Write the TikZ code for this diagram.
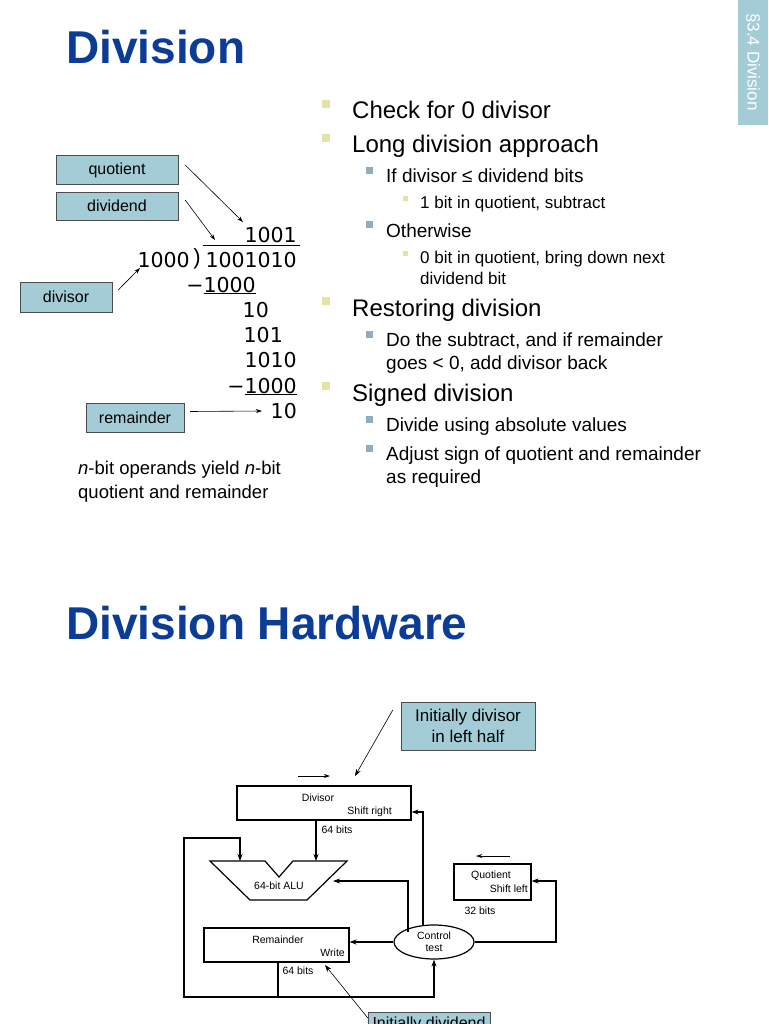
\documentclass[tikz,border=0pt]{standalone}
\usepackage{fontspec}
\setmainfont{Liberation Sans}
\newfontfamily\dv{DejaVu Sans}
\usetikzlibrary{shapes.geometric,arrows.meta}
\definecolor{tealbox}{HTML}{A3CCD6}
\definecolor{ttl}{HTML}{0B3C96}
\definecolor{byel}{HTML}{E3E3A3}
\definecolor{bblu}{HTML}{8FADBF}
\begin{document}
\begin{tikzpicture}[x=1pt,y=-1pt,
 lbl/.style={draw=black!70,fill=tealbox,minimum height=29pt,inner sep=0pt,font=\fontsize{16}{18}\selectfont},
 dig/.style={anchor=base east,inner sep=0pt,font=\dv\fontsize{20.5}{22}\selectfont},
 ar/.style={-{Stealth[length=6pt,width=4pt]},line width=0.6pt},
 har/.style={-{Stealth[length=7pt,width=5pt]},line width=1.2pt},
 hbox/.style={draw,line width=1.2pt,inner sep=0pt},
 sm/.style={font=\fontsize{10.5}{12}\selectfont,inner sep=0pt},
 t1/.style={anchor=base west,inner sep=0pt,font=\fontsize{24}{27}\selectfont},
 t2/.style={anchor=base west,inner sep=0pt,font=\fontsize{19}{22}\selectfont},
 t3/.style={anchor=base west,inner sep=0pt,font=\fontsize{17}{21}\selectfont},
 b1/.style={fill=byel,minimum size=8pt,inner sep=0pt},
 b2/.style={fill=bblu,minimum size=7pt,inner sep=0pt},
 b3/.style={fill=byel,minimum size=5pt,inner sep=0pt}]
\useasboundingbox (0,0) rectangle (768,1024);
\fill[white] (0,0) rectangle (768,1024);
% side tab
\fill[tealbox] (738,0) rectangle (768,125);
\node[rotate=-90,text=white,font=\fontsize{17}{20}\selectfont,inner sep=0pt] (tab) at (753,62) {§3.4 Division};
% titles
\node[anchor=base west,inner sep=0pt,text=ttl,font=\bfseries\fontsize{46}{50}\selectfont] (title1) at (66,64) {Division};
\node[anchor=base west,inner sep=0pt,text=ttl,font=\bfseries\fontsize{46}{50}\selectfont] (title2) at (66,639) {Division Hardware};
% bullets
\node[b1] (s1) at (326,104) {}; \node[t1] (l1) at (352,119) {Check for 0 divisor};
\node[b1] (s2) at (326,138) {}; \node[t1] (l2) at (352,153) {Long division approach};
\node[b2] (s3) at (369,171) {}; \node[t2] (l3) at (386,183) {If divisor ≤ dividend bits};
\node[b3] (s4) at (405,199) {}; \node[t3] (l4) at (420,209) {1 bit in quotient, subtract};
\node[b2] (s5) at (369,225) {}; \node[t2] (l5) at (386,237) {Otherwise};
\node[b3] (s6) at (405,253) {}; \node[t3] (l6) at (420,263) {0 bit in quotient, bring down next};
\node[t3] (l6b) at (420,284) {dividend bit};
\node[b1] (s7) at (326,301) {}; \node[t1] (l7) at (352,316) {Restoring division};
\node[b2] (s8) at (369,334) {}; \node[t2] (l8) at (386,346) {Do the subtract, and if remainder};
\node[t2] (l8b) at (386,369) {goes < 0, add divisor back};
\node[b1] (s9) at (326,386) {}; \node[t1] (l9) at (352,401) {Signed division};
\node[b2] (s10) at (369,419) {}; \node[t2] (l10) at (386,431) {Divide using absolute values};
\node[b2] (s11) at (369,448) {}; \node[t2] (l11) at (386,460) {Adjust sign of quotient and remainder};
\node[t2] (l11b) at (386,483) {as required};
% long division
\node[dig] (q) at (297,242) {1001};
\draw[line width=0.8pt] (203,245) -- (300,245);
\node[dig] (dd) at (297,267) {1001010};
\node[dig] (dv) at (190,267) {1000};
\node[inner sep=0pt,font=\fontsize{22}{24}\selectfont] (br) at (197,259) {)};
\node[dig] (m1) at (256,292) {−\underline{1000}};
\node[dig] (r1) at (269,317) {10};
\node[dig] (r2) at (283,342) {101};
\node[dig] (r3) at (297,367) {1010};
\node[dig] (m2) at (297,393) {−\underline{1000}};
\node[dig] (rem) at (297,418) {10};
\node[lbl,minimum width=122pt] (Lq) at (117,170) {quotient};
\node[lbl,minimum width=122pt,minimum height=28pt] (Ld) at (117,206) {dividend};
\node[lbl,minimum width=92pt,minimum height=30pt] (Lv) at (66,297) {divisor};
\node[lbl,minimum width=98pt] (Lr) at (135,417.5) {remainder};
\coordinate (aq) at (243,222); \coordinate (ad) at (215,240);
\coordinate (av) at (140,268); \coordinate (arm) at (262,411);
\draw[ar] (Lq.east)++(7,-5) -- (aq);
\draw[ar] (Ld.east)++(7,-6) -- (ad);
\draw[ar] (Lv.east)++(6,-7) -- (av);
\draw[ar] (Lr.east)++(6,-6) -- (arm);
\node[anchor=base west,inner sep=0pt,font=\fontsize{18.5}{24}\selectfont] (cap) at (78,474) {\textit{n}-bit operands yield \textit{n}-bit};
\node[anchor=base west,inner sep=0pt,font=\fontsize{18.5}{24}\selectfont] (cap2) at (78,498) {quotient and remainder};
% hardware
\node[hbox,minimum width=174pt,minimum height=34pt] (div) at (324,803) {};
\node[sm] (divt) at (318,798) {Divisor};
\node[sm,anchor=east] (divs) at (392,812) {Shift right};
\draw[line width=1.2pt] (210,861) -- (265,861) -- (279,877) -- (293,861) -- (347,861) -- (307,900) -- (250,900) -- cycle;
\coordinate (aluN) at (316,861); \coordinate (aluL) at (240,861); \coordinate (aluR) at (333,881);
\node[sm] (alut) at (279,886) {64-bit ALU};
\node[hbox,minimum width=145pt,minimum height=34pt] (remb) at (276.5,945) {};
\node[sm] (remt) at (278,940) {Remainder};
\node[sm,anchor=east] (remw) at (345,953) {Write};
\node[draw,ellipse,line width=1.2pt,minimum width=80pt,minimum height=34pt,inner sep=0pt,align=center,font=\fontsize{10.5}{12}\selectfont] (ctl) at (434,942) {Control\\test};
\node[hbox,minimum width=77pt,minimum height=36pt] (quo) at (492.5,882) {};
\node[sm] (quot) at (491,876) {Quotient};
\node[sm,anchor=east] (quos) at (528,889) {Shift left};
\node[sm] (b32) at (480,911) {32 bits};
\node[sm] (b64a) at (337,830) {64 bits};
\node[sm] (b64b) at (298,971) {64 bits};
\draw[har] (div.south -| aluN) -- (aluN);
\draw[har] (ctl.west) -- (ctl.west -| remb.east);
\draw[har] (408,932) -- (408,881) -- (aluR);
\draw[har] (423,926) -- (423,812) -- (div.east |- 0,812);
\draw[har] (ctl.east) -- (556,942) -- (556,881) -- (quo.east |- 0,881);
\coordinate (rb) at (278,997);
\draw[har] (remb.south -| rb) -- (rb) -- (184,997) -- (184,838) -- (240,838) -- (aluL);
\draw[har] (rb) -- (434,997) -- (ctl.south);
\draw[line width=0.8pt,-{Stealth[length=6pt,width=4pt]}] (298,776) -- (330,776);
\draw[line width=0.8pt,-{Stealth[length=6pt,width=4pt]}] (510,856) -- (476,856);
\node[lbl,minimum width=134pt,minimum height=48pt,align=center,font=\fontsize{17}{21}\selectfont] (c1) at (468,726) {Initially divisor\\in left half};
\node[lbl,minimum width=122pt,minimum height=24pt,anchor=north,font=\fontsize{16}{18}\selectfont] (c2) at (429,1012) {Initially dividend};
\draw[line width=0.6pt,-{Stealth[length=7pt,width=5pt]}] (c1.west)++(-8,-16) -- (355,776);
\draw[line width=0.6pt,-{Stealth[length=7pt,width=5pt]}] (c2.north west)++(0,6) -- (325,965);
\end{tikzpicture}
\end{document}
